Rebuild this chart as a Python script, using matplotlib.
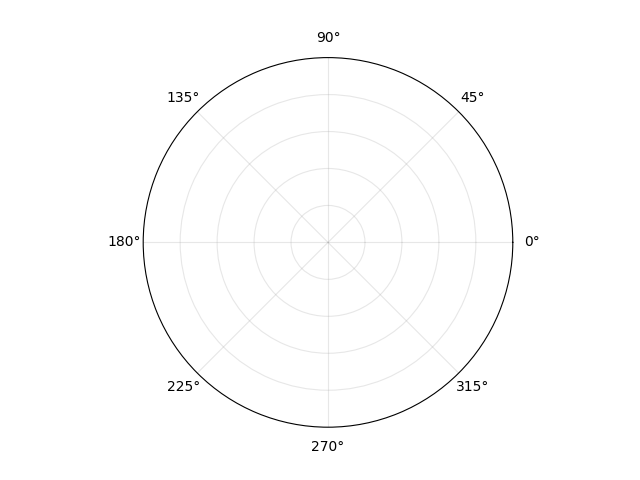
import numpy as np
import matplotlib.pyplot as plt

# empty polar frame, radial rings without labels
r_ticks = [0.2, 0.4, 0.6, 0.8]
r_max = 1.0

fig = plt.figure(figsize=(6.4, 4.8), dpi=100)
ax = fig.add_subplot(111, projection="polar")
ax.set_ylim(0, r_max)
ax.set_yticks(r_ticks)
ax.set_yticklabels([])
ax.grid(True, color="#b0b0b0", alpha=0.3, linewidth=0.8)

fig.savefig("out.png")
